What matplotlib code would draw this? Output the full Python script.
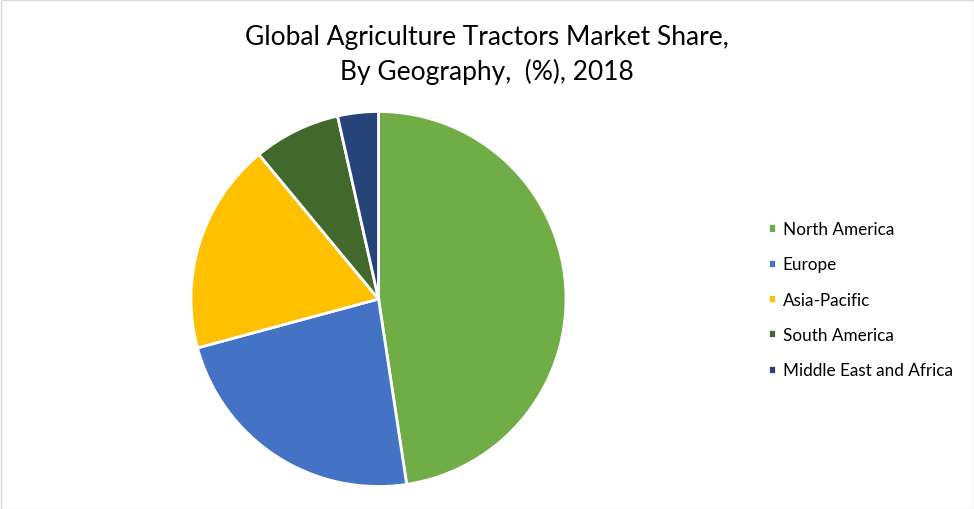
import matplotlib
matplotlib.use("Agg")
import matplotlib.pyplot as plt
from matplotlib.patches import Rectangle

regions = ["North America", "Europe", "Asia-Pacific", "South America", "Middle East and Africa"]
shares = [47.6, 23.2, 18.2, 7.5, 3.5]
colors = ["#70AD47", "#4472C4", "#FFC000", "#43682B", "#264478"]
title = "Global Agriculture Tractors Market Share,\nBy Geography,  (%), 2018"

plt.rcParams['font.family'] = ['Lato', 'DejaVu Sans']

W, H = 974, 510
fig = plt.figure(figsize=(W/100, H/100), dpi=100)
fig.patch.set_facecolor("white")

cx, cy, r = 378.5, 300, 187.5
ax = fig.add_axes([(cx - r)/W, (H - cy - r)/H, 2*r/W, 2*r/H])
wedges, _ = ax.pie(shares, colors=colors, startangle=90, counterclock=False,
                   radius=1, wedgeprops=dict(edgecolor="white", linewidth=2, clip_on=False))
ax.set_xlim(-1.0, 1.0)
ax.set_ylim(-1.0, 1.0)
ax.set_aspect("auto")
ax.axis("off")

fig.text(0.5, 1 - 55/H, title, ha="center", va="center", fontsize=19,
         linespacing=1.45, color="black")

leg = fig.legend(wedges, regions, loc="upper left",
                 bbox_to_anchor=(768/W, 1 - 222/H), frameon=False,
                 fontsize=12.3, handlelength=0.45, handleheight=0.45,
                 handletextpad=0.4, labelspacing=1.13, borderpad=0, borderaxespad=0)

fig.patches.append(Rectangle((0.5/W, 0.5/H), 1 - 1/W, 1 - 1/H, transform=fig.transFigure,
                             fill=False, edgecolor="#d9d9d9", linewidth=1))

fig.savefig("out.png", dpi=100)
